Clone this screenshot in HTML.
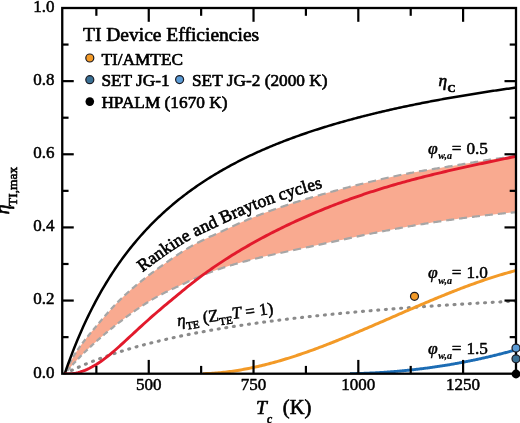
<!DOCTYPE html>
<html><head><meta charset="utf-8"><title>TI Device Efficiencies</title>
<style>
html,body{margin:0;padding:0;background:#fff;}
svg{display:block;}
text{font-family:"Liberation Serif",serif;fill:#000;}
.t{font-size:17.3px;}
.b{stroke:#000;stroke-width:0.65px;stroke-linejoin:round;}
.b2{stroke:#000;stroke-width:0.5px;stroke-linejoin:round;}
</style></head>
<body>
<svg width="520" height="423" viewBox="0 0 520 423">
<rect width="520" height="423" fill="#fff"/>
<defs><clipPath id="cp"><rect x="62.25" y="8.0" width="453.75" height="366.3"/></clipPath></defs>
<g clip-path="url(#cp)">
<path d="M64.50,373.88 L66.77,368.95 L69.04,364.40 L71.31,360.18 L73.58,356.27 L75.84,352.62 L78.11,349.19 L80.38,345.95 L82.65,342.88 L84.92,339.94 L87.19,337.10 L89.46,334.34 L91.73,331.62 L93.99,328.92 L96.26,326.22 L98.53,323.51 L100.80,320.82 L103.07,318.15 L105.34,315.51 L107.61,312.92 L109.88,310.38 L112.15,307.91 L114.41,305.51 L116.68,303.17 L118.95,300.90 L121.22,298.68 L123.49,296.51 L125.76,294.39 L128.03,292.33 L130.30,290.31 L132.57,288.33 L134.83,286.39 L137.10,284.50 L139.37,282.64 L141.64,280.82 L143.91,279.03 L146.18,277.27 L148.45,275.53 L150.72,273.83 L152.98,272.15 L155.25,270.48 L157.52,268.84 L159.79,267.21 L162.06,265.58 L164.33,263.97 L166.60,262.37 L168.87,260.77 L171.14,259.18 L173.40,257.61 L175.67,256.06 L177.94,254.53 L180.21,253.04 L182.48,251.57 L184.75,250.14 L187.02,248.75 L189.29,247.39 L191.56,246.07 L193.82,244.80 L196.09,243.57 L198.36,242.39 L200.63,241.24 L202.90,240.12 L205.17,239.03 L207.44,237.96 L209.71,236.89 L211.97,235.84 L214.24,234.79 L216.51,233.74 L218.78,232.69 L221.05,231.64 L223.32,230.58 L225.59,229.52 L227.86,228.47 L230.13,227.42 L232.39,226.38 L234.66,225.36 L236.93,224.34 L239.20,223.33 L241.47,222.34 L243.74,221.35 L246.01,220.39 L248.28,219.43 L250.55,218.48 L252.81,217.55 L255.08,216.64 L257.35,215.73 L259.62,214.84 L261.89,213.96 L264.16,213.09 L266.43,212.24 L268.70,211.40 L270.96,210.58 L273.23,209.76 L275.50,208.96 L277.77,208.17 L280.04,207.39 L282.31,206.61 L284.58,205.85 L286.85,205.10 L289.12,204.36 L291.38,203.62 L293.65,202.90 L295.92,202.18 L298.19,201.47 L300.46,200.76 L302.73,200.06 L305.00,199.37 L307.27,198.69 L309.54,198.01 L311.80,197.34 L314.07,196.68 L316.34,196.02 L318.61,195.36 L320.88,194.71 L323.15,194.07 L325.42,193.43 L327.69,192.80 L329.95,192.17 L332.22,191.55 L334.49,190.93 L336.76,190.31 L339.03,189.71 L341.30,189.10 L343.57,188.50 L345.84,187.91 L348.11,187.32 L350.37,186.73 L352.64,186.15 L354.91,185.58 L357.18,185.00 L359.45,184.44 L361.72,183.87 L363.99,183.32 L366.26,182.76 L368.53,182.21 L370.79,181.66 L373.06,181.12 L375.33,180.59 L377.60,180.05 L379.87,179.52 L382.14,179.00 L384.41,178.48 L386.68,177.97 L388.94,177.46 L391.21,176.95 L393.48,176.46 L395.75,175.97 L398.02,175.49 L400.29,175.01 L402.56,174.54 L404.83,174.08 L407.10,173.63 L409.36,173.19 L411.63,172.75 L413.90,172.32 L416.17,171.90 L418.44,171.49 L420.71,171.09 L422.98,170.69 L425.25,170.31 L427.52,169.92 L429.78,169.55 L432.05,169.18 L434.32,168.81 L436.59,168.44 L438.86,168.08 L441.13,167.72 L443.40,167.36 L445.67,167.00 L447.93,166.63 L450.20,166.26 L452.47,165.89 L454.74,165.52 L457.01,165.14 L459.28,164.76 L461.55,164.38 L463.82,164.00 L466.09,163.61 L468.35,163.22 L470.62,162.84 L472.89,162.45 L475.16,162.07 L477.43,161.68 L479.70,161.31 L481.97,160.94 L484.24,160.57 L486.51,160.21 L488.77,159.86 L491.04,159.52 L493.31,159.18 L495.58,158.86 L497.85,158.54 L500.12,158.24 L502.39,157.94 L504.66,157.65 L506.92,157.37 L509.19,157.11 L511.46,156.85 L513.73,156.59 L516.00,156.35 L516.00,212.20 L513.73,212.41 L511.46,212.62 L509.19,212.83 L506.92,213.05 L504.66,213.27 L502.39,213.50 L500.12,213.73 L497.85,213.96 L495.58,214.20 L493.31,214.45 L491.04,214.70 L488.77,214.95 L486.51,215.21 L484.24,215.47 L481.97,215.73 L479.70,216.00 L477.43,216.28 L475.16,216.55 L472.89,216.83 L470.62,217.12 L468.35,217.41 L466.09,217.70 L463.82,218.00 L461.55,218.30 L459.28,218.61 L457.01,218.92 L454.74,219.23 L452.47,219.55 L450.20,219.87 L447.93,220.19 L445.67,220.52 L443.40,220.86 L441.13,221.19 L438.86,221.54 L436.59,221.88 L434.32,222.23 L432.05,222.58 L429.78,222.94 L427.52,223.30 L425.25,223.67 L422.98,224.04 L420.71,224.41 L418.44,224.79 L416.17,225.17 L413.90,225.56 L411.63,225.95 L409.36,226.34 L407.10,226.74 L404.83,227.14 L402.56,227.55 L400.29,227.96 L398.02,228.38 L395.75,228.80 L393.48,229.22 L391.21,229.65 L388.94,230.08 L386.68,230.51 L384.41,230.95 L382.14,231.40 L379.87,231.84 L377.60,232.29 L375.33,232.75 L373.06,233.20 L370.79,233.66 L368.53,234.13 L366.26,234.60 L363.99,235.07 L361.72,235.54 L359.45,236.01 L357.18,236.49 L354.91,236.97 L352.64,237.45 L350.37,237.93 L348.11,238.42 L345.84,238.91 L343.57,239.39 L341.30,239.88 L339.03,240.37 L336.76,240.86 L334.49,241.35 L332.22,241.84 L329.95,242.33 L327.69,242.82 L325.42,243.32 L323.15,243.81 L320.88,244.30 L318.61,244.78 L316.34,245.27 L314.07,245.76 L311.80,246.25 L309.54,246.73 L307.27,247.22 L305.00,247.70 L302.73,248.19 L300.46,248.67 L298.19,249.15 L295.92,249.63 L293.65,250.11 L291.38,250.59 L289.12,251.08 L286.85,251.56 L284.58,252.05 L282.31,252.53 L280.04,253.03 L277.77,253.52 L275.50,254.02 L273.23,254.52 L270.96,255.03 L268.70,255.54 L266.43,256.06 L264.16,256.59 L261.89,257.12 L259.62,257.66 L257.35,258.21 L255.08,258.76 L252.81,259.33 L250.55,259.90 L248.28,260.48 L246.01,261.08 L243.74,261.68 L241.47,262.30 L239.20,262.92 L236.93,263.56 L234.66,264.21 L232.39,264.87 L230.13,265.55 L227.86,266.24 L225.59,266.95 L223.32,267.67 L221.05,268.41 L218.78,269.17 L216.51,269.94 L214.24,270.74 L211.97,271.57 L209.71,272.41 L207.44,273.29 L205.17,274.19 L202.90,275.12 L200.63,276.08 L198.36,277.07 L196.09,278.08 L193.82,279.11 L191.56,280.15 L189.29,281.20 L187.02,282.25 L184.75,283.30 L182.48,284.35 L180.21,285.39 L177.94,286.43 L175.67,287.48 L173.40,288.52 L171.14,289.58 L168.87,290.65 L166.60,291.75 L164.33,292.87 L162.06,294.03 L159.79,295.23 L157.52,296.47 L155.25,297.74 L152.98,299.06 L150.72,300.41 L148.45,301.81 L146.18,303.23 L143.91,304.70 L141.64,306.19 L139.37,307.72 L137.10,309.27 L134.83,310.85 L132.57,312.46 L130.30,314.10 L128.03,315.76 L125.76,317.44 L123.49,319.14 L121.22,320.87 L118.95,322.61 L116.68,324.38 L114.41,326.18 L112.15,327.99 L109.88,329.82 L107.61,331.69 L105.34,333.57 L103.07,335.48 L100.80,337.43 L98.53,339.40 L96.26,341.40 L93.99,343.44 L91.73,345.52 L89.46,347.63 L87.19,349.79 L84.92,351.99 L82.65,354.23 L80.38,356.51 L78.11,358.85 L75.84,361.23 L73.58,363.66 L71.31,366.14 L69.04,368.66 L66.77,371.24 L64.50,373.87 Z" fill="#F9AA90"/>
<path d="M65.75,371.15 L66.05,370.51 L66.35,369.87 L66.64,369.22 L66.95,368.58 L67.27,367.95 L67.58,367.32 L67.90,366.68 M69.27,363.97 L69.61,363.34 L69.94,362.72 L70.28,362.10 L70.61,361.47 L70.95,360.85 L71.29,360.22 L71.64,359.61 M73.16,356.98 L73.53,356.36 L73.90,355.75 L74.28,355.13 L74.66,354.52 L75.04,353.91 L75.42,353.30 L75.80,352.69 M77.50,350.12 L77.91,349.50 L78.32,348.90 L78.74,348.30 L79.16,347.69 L79.58,347.09 L80.00,346.49 L80.43,345.89 M82.30,343.36 L82.75,342.76 L83.20,342.16 L83.66,341.57 L84.12,340.97 L84.58,340.38 L85.04,339.79 L85.51,339.20 M87.53,336.69 L88.01,336.10 L88.50,335.50 L88.99,334.91 L89.48,334.32 L89.97,333.73 L90.46,333.14 L90.96,332.55 M93.07,330.02 L93.58,329.42 L94.08,328.82 L94.59,328.21 L95.10,327.61 L95.60,327.01 L96.11,326.40 L96.61,325.80 M98.78,323.21 L99.30,322.60 L99.82,321.98 L100.34,321.36 L100.86,320.75 L101.39,320.13 L101.91,319.52 L102.43,318.90 M104.68,316.27 L105.22,315.65 L105.76,315.02 L106.31,314.40 L106.85,313.78 L107.40,313.16 L107.95,312.54 L108.50,311.92 M110.88,309.29 L111.45,308.67 L112.03,308.04 L112.61,307.43 L113.19,306.81 L113.77,306.19 L114.35,305.58 L114.94,304.97 M117.49,302.37 L118.10,301.75 L118.71,301.14 L119.33,300.52 L119.96,299.91 L120.58,299.31 L121.20,298.70 L121.83,298.10 M124.54,295.53 L125.19,294.92 L125.85,294.31 L126.51,293.71 L127.17,293.11 L127.83,292.50 L128.50,291.91 L129.17,291.31 M132.05,288.78 L132.74,288.18 L133.44,287.58 L134.14,286.98 L134.84,286.38 L135.55,285.79 L136.26,285.20 L136.96,284.62 M140.02,282.12 L140.76,281.53 L141.50,280.93 L142.24,280.34 L142.98,279.76 L143.73,279.17 L144.47,278.59 L145.22,278.01 M148.45,275.54 L149.23,274.95 L150.00,274.36 L150.79,273.78 L151.57,273.20 L152.35,272.61 L153.14,272.03 L153.92,271.46 M157.31,268.99 L158.12,268.40 L158.94,267.82 L159.76,267.23 L160.58,266.64 L161.39,266.06 L162.21,265.48 L163.03,264.89 M166.55,262.40 L167.40,261.80 L168.25,261.20 L169.10,260.60 L169.95,260.01 L170.80,259.42 L171.65,258.82 L172.50,258.23 M176.18,255.72 L177.07,255.12 L177.96,254.53 L178.85,253.94 L179.74,253.35 L180.64,252.76 L181.54,252.18 L182.44,251.60 M186.33,249.17 L187.27,248.59 L188.22,248.03 L189.17,247.46 L190.13,246.90 L191.08,246.35 L192.04,245.80 L193.00,245.26 M197.18,243.01 L198.19,242.48 L199.21,241.96 L200.22,241.45 L201.25,240.94 L202.27,240.43 L203.30,239.93 L204.33,239.44 M208.75,237.34 L209.80,236.85 L210.84,236.37 L211.88,235.88 L212.93,235.40 L213.97,234.92 L215.02,234.43 L216.06,233.95 M220.55,231.87 L221.59,231.39 L222.63,230.90 L223.68,230.41 L224.72,229.93 L225.76,229.44 L226.81,228.96 L227.85,228.47 M232.34,226.41 L233.39,225.93 L234.44,225.46 L235.49,224.98 L236.54,224.51 L237.59,224.04 L238.64,223.58 L239.70,223.11 M244.23,221.15 L245.29,220.69 L246.35,220.24 L247.41,219.79 L248.47,219.35 L249.53,218.91 L250.60,218.46 L251.66,218.03 M256.24,216.17 L257.31,215.75 L258.38,215.32 L259.45,214.90 L260.53,214.49 L261.60,214.07 L262.67,213.66 L263.75,213.25 M268.38,211.52 L269.46,211.12 L270.54,210.73 L271.62,210.34 L272.71,209.95 L273.79,209.56 L274.88,209.18 L275.96,208.80 M280.63,207.18 L281.72,206.81 L282.81,206.44 L283.91,206.08 L285.00,205.71 L286.09,205.35 L287.18,204.99 L288.28,204.63 M292.98,203.11 L294.08,202.76 L295.17,202.41 L296.27,202.07 L297.37,201.72 L298.47,201.38 L299.57,201.04 L300.67,200.70 M305.39,199.26 L306.50,198.92 L307.60,198.59 L308.70,198.26 L309.81,197.93 L310.91,197.61 L312.01,197.28 L313.12,196.96 M317.86,195.58 L318.97,195.26 L320.08,194.94 L321.18,194.63 L322.29,194.31 L323.40,194.00 L324.51,193.69 L325.62,193.38 M330.38,192.05 L331.49,191.75 L332.60,191.44 L333.71,191.14 L334.82,190.84 L335.93,190.54 L337.04,190.24 L338.15,189.94 M342.93,188.67 L344.04,188.38 L345.16,188.09 L346.27,187.80 L347.38,187.51 L348.50,187.22 L349.61,186.93 L350.73,186.64 M355.52,185.42 L356.63,185.14 L357.75,184.86 L358.87,184.58 L359.98,184.30 L361.10,184.03 L362.22,183.75 L363.34,183.48 M368.14,182.31 L369.26,182.04 L370.38,181.77 L371.49,181.50 L372.61,181.23 L373.73,180.96 L374.86,180.70 L375.98,180.43 M380.79,179.31 L381.91,179.05 L383.03,178.79 L384.15,178.54 L385.28,178.28 L386.40,178.03 L387.52,177.78 L388.65,177.52 M393.47,176.46 L394.60,176.22 L395.72,175.98 L396.85,175.74 L397.97,175.50 L399.10,175.26 L400.23,175.02 L401.36,174.79 M406.20,173.81 L407.33,173.58 L408.46,173.36 L409.59,173.14 L410.72,172.93 L411.85,172.71 L412.98,172.50 L414.11,172.28 M418.97,171.40 L420.10,171.20 L421.24,171.00 L422.37,170.80 L423.51,170.60 L424.64,170.41 L425.78,170.22 L426.91,170.03 M431.79,169.22 L432.92,169.04 L434.06,168.85 L435.20,168.67 L436.33,168.49 L437.47,168.30 L438.61,168.12 L439.74,167.94 M444.62,167.16 L445.76,166.98 L446.90,166.80 L448.03,166.61 L449.17,166.43 L450.31,166.25 L451.44,166.06 L452.58,165.88 M457.45,165.07 L458.59,164.88 L459.72,164.69 L460.86,164.50 L462.00,164.31 L463.13,164.11 L464.27,163.92 L465.40,163.73 M470.27,162.90 L471.41,162.70 L472.54,162.51 L473.68,162.32 L474.81,162.12 L475.95,161.93 L477.08,161.74 L478.22,161.55 M483.09,160.75 L484.23,160.57 L485.37,160.39 L486.50,160.21 L487.64,160.04 L488.78,159.86 L489.92,159.69 L491.06,159.52 M495.95,158.81 L497.09,158.65 L498.23,158.49 L499.37,158.34 L500.51,158.19 L501.65,158.04 L502.79,157.89 L503.94,157.74 M508.84,157.15 L509.86,157.03 L510.88,156.91 L511.91,156.80 L512.93,156.68 L513.95,156.57 L514.98,156.46 L516.00,156.35" fill="none" stroke="#A6A6A6" stroke-width="2.2"/>
<path d="M67.12,370.85 L67.58,370.32 L68.05,369.78 L68.52,369.25 L68.99,368.72 L69.46,368.19 L69.93,367.66 L70.41,367.14 M72.45,364.89 L72.93,364.36 L73.42,363.83 L73.91,363.30 L74.40,362.78 L74.89,362.25 L75.37,361.73 L75.86,361.21 M77.99,358.98 L78.50,358.45 L79.01,357.92 L79.52,357.40 L80.04,356.87 L80.55,356.34 L81.07,355.82 L81.59,355.30 M83.82,353.07 L84.36,352.54 L84.90,352.01 L85.44,351.48 L85.98,350.96 L86.53,350.43 L87.07,349.90 L87.62,349.38 M89.97,347.15 L90.54,346.63 L91.11,346.10 L91.68,345.57 L92.25,345.04 L92.82,344.52 L93.39,343.99 L93.97,343.47 M96.45,341.24 L97.04,340.71 L97.64,340.18 L98.24,339.66 L98.84,339.13 L99.44,338.61 L100.05,338.08 L100.65,337.56 M103.25,335.33 L103.88,334.80 L104.51,334.27 L105.14,333.74 L105.77,333.21 L106.40,332.69 L107.03,332.16 L107.67,331.64 M110.39,329.41 L111.05,328.87 L111.71,328.34 L112.37,327.81 L113.03,327.28 L113.69,326.75 L114.35,326.23 L115.02,325.70 M117.87,323.46 L118.56,322.92 L119.25,322.39 L119.94,321.86 L120.63,321.32 L121.32,320.79 L122.01,320.26 L122.71,319.74 M125.69,317.49 L126.41,316.95 L127.14,316.42 L127.86,315.88 L128.58,315.35 L129.31,314.82 L130.03,314.29 L130.76,313.76 M133.89,311.52 L134.65,310.98 L135.41,310.45 L136.17,309.92 L136.93,309.39 L137.69,308.87 L138.46,308.34 L139.22,307.82 M142.52,305.61 L143.32,305.09 L144.12,304.56 L144.92,304.04 L145.73,303.53 L146.53,303.01 L147.34,302.50 L148.15,301.99 M151.65,299.86 L152.49,299.35 L153.34,298.85 L154.20,298.36 L155.05,297.86 L155.91,297.37 L156.77,296.89 L157.63,296.41 M161.36,294.40 L162.26,293.93 L163.17,293.47 L164.08,293.00 L164.99,292.55 L165.90,292.09 L166.82,291.64 L167.74,291.20 M171.69,289.32 L172.65,288.87 L173.60,288.43 L174.56,287.99 L175.52,287.55 L176.48,287.11 L177.44,286.67 L178.40,286.23 M182.51,284.34 L183.50,283.88 L184.49,283.42 L185.48,282.96 L186.47,282.50 L187.46,282.04 L188.45,281.58 L189.44,281.12 M193.70,279.16 L194.73,278.70 L195.76,278.23 L196.79,277.77 L197.82,277.31 L198.85,276.86 L199.89,276.41 L200.93,275.96 M205.40,274.10 L206.47,273.67 L207.54,273.25 L208.62,272.83 L209.69,272.42 L210.77,272.02 L211.85,271.61 L212.93,271.22 M217.59,269.57 L218.68,269.20 L219.77,268.84 L220.86,268.47 L221.96,268.11 L223.05,267.76 L224.15,267.41 L225.25,267.06 M229.97,265.60 L231.07,265.27 L232.17,264.94 L233.28,264.62 L234.38,264.29 L235.49,263.97 L236.60,263.66 L237.70,263.34 M242.47,262.03 L243.58,261.72 L244.69,261.43 L245.80,261.13 L246.92,260.84 L248.03,260.55 L249.14,260.26 L250.26,259.97 M255.05,258.77 L256.17,258.50 L257.29,258.22 L258.41,257.95 L259.53,257.68 L260.65,257.41 L261.77,257.15 L262.89,256.88 M267.70,255.77 L268.82,255.51 L269.95,255.26 L271.07,255.01 L272.19,254.75 L273.32,254.50 L274.44,254.25 L275.56,254.01 M280.39,252.95 L281.52,252.71 L282.64,252.46 L283.77,252.22 L284.89,251.98 L286.02,251.74 L287.14,251.50 L288.27,251.26 M293.10,250.23 L294.23,249.99 L295.36,249.75 L296.48,249.51 L297.61,249.27 L298.73,249.03 L299.86,248.79 L300.99,248.56 M305.82,247.53 L306.94,247.29 L308.07,247.05 L309.20,246.81 L310.32,246.56 L311.45,246.32 L312.57,246.08 L313.70,245.84 M318.53,244.80 L319.66,244.56 L320.78,244.32 L321.91,244.07 L323.03,243.83 L324.16,243.59 L325.28,243.34 L326.41,243.10 M331.24,242.06 L332.36,241.81 L333.49,241.57 L334.61,241.33 L335.74,241.08 L336.86,240.84 L337.99,240.60 L339.11,240.35 M343.94,239.31 L345.07,239.07 L346.20,238.83 L347.32,238.59 L348.45,238.35 L349.57,238.11 L350.70,237.87 L351.83,237.63 M356.66,236.60 L357.78,236.36 L358.91,236.13 L360.04,235.89 L361.16,235.65 L362.29,235.42 L363.42,235.18 L364.55,234.95 M369.39,233.95 L370.51,233.72 L371.64,233.49 L372.77,233.26 L373.90,233.04 L375.03,232.81 L376.16,232.58 L377.29,232.36 M382.13,231.40 L383.26,231.18 L384.39,230.96 L385.52,230.74 L386.65,230.52 L387.78,230.30 L388.91,230.08 L390.05,229.87 M394.90,228.95 L396.03,228.74 L397.16,228.53 L398.30,228.33 L399.43,228.12 L400.56,227.91 L401.69,227.71 L402.83,227.50 M407.69,226.64 L408.83,226.44 L409.96,226.24 L411.09,226.04 L412.23,225.85 L413.36,225.65 L414.50,225.46 L415.63,225.26 M420.51,224.45 L421.64,224.26 L422.78,224.07 L423.91,223.89 L425.05,223.70 L426.19,223.52 L427.32,223.33 L428.46,223.15 M433.34,222.38 L434.48,222.21 L435.62,222.03 L436.75,221.86 L437.89,221.68 L439.03,221.51 L440.17,221.34 L441.31,221.17 M446.20,220.45 L447.34,220.28 L448.47,220.12 L449.61,219.95 L450.75,219.79 L451.89,219.63 L453.03,219.47 L454.17,219.31 M459.07,218.64 L460.21,218.48 L461.35,218.33 L462.49,218.18 L463.63,218.02 L464.78,217.87 L465.92,217.72 L467.06,217.58 M471.96,216.95 L473.10,216.81 L474.24,216.67 L475.39,216.53 L476.53,216.39 L477.67,216.25 L478.82,216.11 L479.96,215.97 M484.87,215.40 L486.01,215.26 L487.15,215.13 L488.30,215.00 L489.44,214.88 L490.59,214.75 L491.73,214.62 L492.88,214.50 M497.79,213.97 L498.93,213.85 L500.08,213.73 L501.22,213.62 L502.37,213.50 L503.51,213.38 L504.66,213.27 L505.81,213.16 M510.72,212.68 L511.48,212.61 L512.23,212.54 L512.98,212.47 L513.74,212.41 L514.49,212.34 L515.25,212.27 L516.00,212.20" fill="none" stroke="#A6A6A6" stroke-width="2.2"/>
<path d="M62.25,374.95 L63.77,374.18 L65.29,373.42 L66.80,372.67 L68.32,371.93 L69.84,371.20 L71.36,370.48 L72.87,369.77 L74.39,369.07 L75.91,368.38 L77.43,367.70 L78.94,367.03 L80.46,366.37 L81.98,365.71 L83.50,365.07 L85.01,364.43 L86.53,363.80 L88.05,363.18 L89.57,362.57 L91.08,361.96 L92.60,361.37 L94.12,360.78 L95.64,360.19 L97.15,359.62 L98.67,359.05 L100.19,358.49 L101.71,357.93 L103.22,357.38 L104.74,356.84 L106.26,356.31 L107.78,355.78 L109.29,355.25 L110.81,354.74 L112.33,354.23 L113.85,353.72 L115.36,353.22 L116.88,352.73 L118.40,352.24 L119.92,351.76 L121.43,351.28 L122.95,350.81 L124.47,350.34 L125.99,349.88 L127.51,349.43 L129.02,348.98 L130.54,348.53 L132.06,348.09 L133.58,347.65 L135.09,347.22 L136.61,346.79 L138.13,346.37 L139.65,345.95 L141.16,345.54 L142.68,345.13 L144.20,344.72 L145.72,344.32 L147.23,343.92 L148.75,343.53 L150.27,343.14 L151.79,342.75 L153.30,342.37 L154.82,341.99 L156.34,341.62 L157.86,341.25 L159.37,340.88 L160.89,340.52 L162.41,340.16 L163.93,339.80 L165.44,339.45 L166.96,339.10 L168.48,338.76 L170.00,338.41 L171.51,338.07 L173.03,337.74 L174.55,337.40 L176.07,337.07 L177.58,336.75 L179.10,336.42 L180.62,336.10 L182.14,335.78 L183.65,335.47 L185.17,335.16 L186.69,334.85 L188.21,334.54 L189.72,334.24 L191.24,333.94 L192.76,333.64 L194.28,333.34 L195.80,333.05 L197.31,332.76 L198.83,332.47 L200.35,332.18 L201.87,331.90 L203.38,331.62 L204.90,331.34 L206.42,331.06 L207.94,330.79 L209.45,330.52 L210.97,330.25 L212.49,329.98 L214.01,329.72 L215.52,329.46 L217.04,329.20 L218.56,328.94 L220.08,328.68 L221.59,328.43 L223.11,328.18 L224.63,327.93 L226.15,327.68 L227.66,327.43 L229.18,327.19 L230.70,326.95 L232.22,326.71 L233.73,326.47 L235.25,326.23 L236.77,326.00 L238.29,325.77 L239.80,325.54 L241.32,325.31 L242.84,325.08 L244.36,324.86 L245.87,324.63 L247.39,324.41 L248.91,324.19 L250.43,323.97 L251.94,323.75 L253.46,323.54 L254.98,323.33 L256.50,323.11 L258.02,322.90 L259.53,322.69 L261.05,322.49 L262.57,322.28 L264.09,322.08 L265.60,321.87 L267.12,321.67 L268.64,321.47 L270.16,321.27 L271.67,321.08 L273.19,320.88 L274.71,320.69 L276.23,320.49 L277.74,320.30 L279.26,320.11 L280.78,319.92 L282.30,319.74 L283.81,319.55 L285.33,319.37 L286.85,319.18 L288.37,319.00 L289.88,318.82 L291.40,318.64 L292.92,318.46 L294.44,318.28 L295.95,318.11 L297.47,317.93 L298.99,317.76 L300.51,317.59 L302.02,317.41 L303.54,317.24 L305.06,317.08 L306.58,316.91 L308.09,316.74 L309.61,316.57 L311.13,316.41 L312.65,316.25 L314.16,316.08 L315.68,315.92 L317.20,315.76 L318.72,315.60 L320.23,315.44 L321.75,315.29 L323.27,315.13 L324.79,314.98 L326.31,314.82 L327.82,314.67 L329.34,314.52 L330.86,314.36 L332.38,314.21 L333.89,314.06 L335.41,313.92 L336.93,313.77 L338.45,313.62 L339.96,313.48 L341.48,313.33 L343.00,313.19 L344.52,313.04 L346.03,312.90 L347.55,312.76 L349.07,312.62 L350.59,312.48 L352.10,312.34 L353.62,312.20 L355.14,312.07 L356.66,311.93 L358.17,311.79 L359.69,311.66 L361.21,311.53 L362.73,311.39 L364.24,311.26 L365.76,311.13 L367.28,311.00 L368.80,310.87 L370.31,310.74 L371.83,310.61 L373.35,310.48 L374.87,310.36 L376.38,310.23 L377.90,310.10 L379.42,309.98 L380.94,309.85 L382.45,309.73 L383.97,309.61 L385.49,309.49 L387.01,309.37 L388.53,309.24 L390.04,309.12 L391.56,309.01 L393.08,308.89 L394.60,308.77 L396.11,308.65 L397.63,308.53 L399.15,308.42 L400.67,308.30 L402.18,308.19 L403.70,308.07 L405.22,307.96 L406.74,307.85 L408.25,307.74 L409.77,307.62 L411.29,307.51 L412.81,307.40 L414.32,307.29 L415.84,307.18 L417.36,307.08 L418.88,306.97 L420.39,306.86 L421.91,306.75 L423.43,306.65 L424.95,306.54 L426.46,306.44 L427.98,306.33 L429.50,306.23 L431.02,306.12 L432.53,306.02 L434.05,305.92 L435.57,305.82 L437.09,305.71 L438.60,305.61 L440.12,305.51 L441.64,305.41 L443.16,305.31 L444.67,305.21 L446.19,305.12 L447.71,305.02 L449.23,304.92 L450.74,304.82 L452.26,304.73 L453.78,304.63 L455.30,304.54 L456.82,304.44 L458.33,304.35 L459.85,304.25 L461.37,304.16 L462.89,304.07 L464.40,303.97 L465.92,303.88 L467.44,303.79 L468.96,303.70 L470.47,303.61 L471.99,303.52 L473.51,303.43 L475.03,303.34 L476.54,303.25 L478.06,303.16 L479.58,303.07 L481.10,302.98 L482.61,302.90 L484.13,302.81 L485.65,302.72 L487.17,302.64 L488.68,302.55 L490.20,302.47 L491.72,302.38 L493.24,302.30 L494.75,302.21 L496.27,302.13 L497.79,302.04 L499.31,301.96 L500.82,301.88 L502.34,301.80 L503.86,301.72 L505.38,301.63 L506.89,301.55 L508.41,301.47 L509.93,301.39 L511.45,301.31 L512.96,301.23 L514.48,301.15 L516.00,301.07" fill="none" stroke="#8a8a8a" stroke-width="3.1" stroke-linecap="round" stroke-dasharray="1 6.65" stroke-dashoffset="5.08"/>
<path d="M62.25,381.02 L63.77,376.48 L65.29,372.04 L66.80,367.72 L68.32,363.49 L69.84,359.36 L71.36,355.33 L72.87,351.38 L74.39,347.53 L75.91,343.76 L77.43,340.07 L78.94,336.47 L80.46,332.94 L81.98,329.49 L83.50,326.11 L85.01,322.80 L86.53,319.55 L88.05,316.38 L89.57,313.27 L91.08,310.22 L92.60,307.23 L94.12,304.30 L95.64,301.42 L97.15,298.60 L98.67,295.84 L100.19,293.12 L101.71,290.46 L103.22,287.85 L104.74,285.28 L106.26,282.76 L107.78,280.29 L109.29,277.86 L110.81,275.48 L112.33,273.13 L113.85,270.83 L115.36,268.56 L116.88,266.34 L118.40,264.15 L119.92,262.00 L121.43,259.89 L122.95,257.81 L124.47,255.76 L125.99,253.75 L127.51,251.77 L129.02,249.82 L130.54,247.90 L132.06,246.01 L133.58,244.15 L135.09,242.33 L136.61,240.52 L138.13,238.75 L139.65,237.00 L141.16,235.28 L142.68,233.59 L144.20,231.92 L145.72,230.27 L147.23,228.65 L148.75,227.05 L150.27,225.48 L151.79,223.93 L153.30,222.40 L154.82,220.89 L156.34,219.40 L157.86,217.93 L159.37,216.49 L160.89,215.06 L162.41,213.65 L163.93,212.26 L165.44,210.89 L166.96,209.54 L168.48,208.21 L170.00,206.89 L171.51,205.59 L173.03,204.31 L174.55,203.04 L176.07,201.79 L177.58,200.56 L179.10,199.34 L180.62,198.14 L182.14,196.95 L183.65,195.78 L185.17,194.62 L186.69,193.48 L188.21,192.35 L189.72,191.23 L191.24,190.13 L192.76,189.04 L194.28,187.96 L195.80,186.89 L197.31,185.84 L198.83,184.80 L200.35,183.78 L201.87,182.76 L203.38,181.76 L204.90,180.76 L206.42,179.78 L207.94,178.81 L209.45,177.85 L210.97,176.91 L212.49,175.97 L214.01,175.04 L215.52,174.12 L217.04,173.22 L218.56,172.32 L220.08,171.43 L221.59,170.55 L223.11,169.68 L224.63,168.82 L226.15,167.97 L227.66,167.13 L229.18,166.30 L230.70,165.47 L232.22,164.66 L233.73,163.85 L235.25,163.05 L236.77,162.26 L238.29,161.48 L239.80,160.71 L241.32,159.94 L242.84,159.18 L244.36,158.43 L245.87,157.68 L247.39,156.95 L248.91,156.22 L250.43,155.49 L251.94,154.78 L253.46,154.07 L254.98,153.37 L256.50,152.67 L258.02,151.98 L259.53,151.30 L261.05,150.63 L262.57,149.96 L264.09,149.29 L265.60,148.64 L267.12,147.99 L268.64,147.34 L270.16,146.70 L271.67,146.07 L273.19,145.44 L274.71,144.82 L276.23,144.20 L277.74,143.59 L279.26,142.99 L280.78,142.39 L282.30,141.79 L283.81,141.20 L285.33,140.62 L286.85,140.04 L288.37,139.47 L289.88,138.90 L291.40,138.33 L292.92,137.78 L294.44,137.22 L295.95,136.67 L297.47,136.13 L298.99,135.59 L300.51,135.05 L302.02,134.52 L303.54,133.99 L305.06,133.47 L306.58,132.95 L308.09,132.44 L309.61,131.93 L311.13,131.42 L312.65,130.92 L314.16,130.42 L315.68,129.93 L317.20,129.44 L318.72,128.95 L320.23,128.47 L321.75,127.99 L323.27,127.52 L324.79,127.05 L326.31,126.58 L327.82,126.12 L329.34,125.66 L330.86,125.21 L332.38,124.75 L333.89,124.30 L335.41,123.86 L336.93,123.42 L338.45,122.98 L339.96,122.54 L341.48,122.11 L343.00,121.68 L344.52,121.26 L346.03,120.83 L347.55,120.41 L349.07,120.00 L350.59,119.58 L352.10,119.17 L353.62,118.77 L355.14,118.36 L356.66,117.96 L358.17,117.56 L359.69,117.17 L361.21,116.78 L362.73,116.39 L364.24,116.00 L365.76,115.62 L367.28,115.23 L368.80,114.85 L370.31,114.48 L371.83,114.11 L373.35,113.73 L374.87,113.37 L376.38,113.00 L377.90,112.64 L379.42,112.28 L380.94,111.92 L382.45,111.56 L383.97,111.21 L385.49,110.86 L387.01,110.51 L388.53,110.16 L390.04,109.82 L391.56,109.48 L393.08,109.14 L394.60,108.80 L396.11,108.47 L397.63,108.13 L399.15,107.80 L400.67,107.48 L402.18,107.15 L403.70,106.83 L405.22,106.50 L406.74,106.18 L408.25,105.87 L409.77,105.55 L411.29,105.24 L412.81,104.93 L414.32,104.62 L415.84,104.31 L417.36,104.00 L418.88,103.70 L420.39,103.40 L421.91,103.10 L423.43,102.80 L424.95,102.50 L426.46,102.21 L427.98,101.92 L429.50,101.63 L431.02,101.34 L432.53,101.05 L434.05,100.76 L435.57,100.48 L437.09,100.20 L438.60,99.92 L440.12,99.64 L441.64,99.36 L443.16,99.09 L444.67,98.82 L446.19,98.54 L447.71,98.27 L449.23,98.00 L450.74,97.74 L452.26,97.47 L453.78,97.21 L455.30,96.95 L456.82,96.69 L458.33,96.43 L459.85,96.17 L461.37,95.91 L462.89,95.66 L464.40,95.40 L465.92,95.15 L467.44,94.90 L468.96,94.65 L470.47,94.41 L471.99,94.16 L473.51,93.91 L475.03,93.67 L476.54,93.43 L478.06,93.19 L479.58,92.95 L481.10,92.71 L482.61,92.47 L484.13,92.24 L485.65,92.01 L487.17,91.77 L488.68,91.54 L490.20,91.31 L491.72,91.08 L493.24,90.86 L494.75,90.63 L496.27,90.40 L497.79,90.18 L499.31,89.96 L500.82,89.74 L502.34,89.52 L503.86,89.30 L505.38,89.08 L506.89,88.86 L508.41,88.65 L509.93,88.43 L511.45,88.22 L512.96,88.01 L514.48,87.80 L516.00,87.59" fill="none" stroke="#000" stroke-width="2.5"/>
<path d="M64.50,373.76 L66.77,373.93 L69.04,373.94 L71.31,373.82 L73.58,373.55 L75.84,373.15 L78.11,372.63 L80.38,371.98 L82.65,371.21 L84.92,370.34 L87.19,369.36 L89.46,368.27 L91.73,367.09 L93.99,365.81 L96.26,364.45 L98.53,362.99 L100.80,361.46 L103.07,359.84 L105.34,358.15 L107.61,356.39 L109.88,354.57 L112.15,352.68 L114.41,350.74 L116.68,348.76 L118.95,346.74 L121.22,344.68 L123.49,342.61 L125.76,340.52 L128.03,338.42 L130.30,336.31 L132.57,334.21 L134.83,332.11 L137.10,330.01 L139.37,327.92 L141.64,325.84 L143.91,323.78 L146.18,321.73 L148.45,319.71 L150.72,317.69 L152.98,315.70 L155.25,313.73 L157.52,311.77 L159.79,309.83 L162.06,307.90 L164.33,305.98 L166.60,304.08 L168.87,302.18 L171.14,300.28 L173.40,298.39 L175.67,296.51 L177.94,294.63 L180.21,292.77 L182.48,290.91 L184.75,289.06 L187.02,287.23 L189.29,285.42 L191.56,283.62 L193.82,281.84 L196.09,280.09 L198.36,278.35 L200.63,276.65 L202.90,274.96 L205.17,273.31 L207.44,271.67 L209.71,270.06 L211.97,268.48 L214.24,266.91 L216.51,265.37 L218.78,263.85 L221.05,262.34 L223.32,260.86 L225.59,259.39 L227.86,257.95 L230.13,256.52 L232.39,255.10 L234.66,253.70 L236.93,252.32 L239.20,250.95 L241.47,249.60 L243.74,248.26 L246.01,246.94 L248.28,245.63 L250.55,244.33 L252.81,243.05 L255.08,241.79 L257.35,240.53 L259.62,239.29 L261.89,238.07 L264.16,236.85 L266.43,235.65 L268.70,234.47 L270.96,233.29 L273.23,232.13 L275.50,230.98 L277.77,229.84 L280.04,228.72 L282.31,227.60 L284.58,226.50 L286.85,225.41 L289.12,224.33 L291.38,223.26 L293.65,222.20 L295.92,221.15 L298.19,220.12 L300.46,219.09 L302.73,218.08 L305.00,217.07 L307.27,216.08 L309.54,215.09 L311.80,214.11 L314.07,213.15 L316.34,212.19 L318.61,211.25 L320.88,210.31 L323.15,209.38 L325.42,208.47 L327.69,207.56 L329.95,206.66 L332.22,205.77 L334.49,204.89 L336.76,204.02 L339.03,203.15 L341.30,202.30 L343.57,201.46 L345.84,200.62 L348.11,199.79 L350.37,198.97 L352.64,198.16 L354.91,197.36 L357.18,196.57 L359.45,195.79 L361.72,195.01 L363.99,194.24 L366.26,193.49 L368.53,192.74 L370.79,191.99 L373.06,191.26 L375.33,190.53 L377.60,189.82 L379.87,189.11 L382.14,188.40 L384.41,187.71 L386.68,187.02 L388.94,186.34 L391.21,185.67 L393.48,185.01 L395.75,184.35 L398.02,183.70 L400.29,183.06 L402.56,182.42 L404.83,181.79 L407.10,181.17 L409.36,180.56 L411.63,179.95 L413.90,179.34 L416.17,178.75 L418.44,178.16 L420.71,177.57 L422.98,176.99 L425.25,176.42 L427.52,175.85 L429.78,175.29 L432.05,174.73 L434.32,174.18 L436.59,173.63 L438.86,173.09 L441.13,172.55 L443.40,172.02 L445.67,171.49 L447.93,170.96 L450.20,170.44 L452.47,169.92 L454.74,169.41 L457.01,168.90 L459.28,168.39 L461.55,167.89 L463.82,167.39 L466.09,166.89 L468.35,166.39 L470.62,165.90 L472.89,165.41 L475.16,164.92 L477.43,164.43 L479.70,163.95 L481.97,163.46 L484.24,162.98 L486.51,162.50 L488.77,162.02 L491.04,161.54 L493.31,161.07 L495.58,160.59 L497.85,160.11 L500.12,159.64 L502.39,159.16 L504.66,158.69 L506.92,158.21 L509.19,157.74 L511.46,157.26 L513.73,156.79 L516.00,156.31" fill="none" stroke="#E21A2C" stroke-width="2.9"/>
<path d="M203.00,373.70 L204.57,373.66 L206.15,373.61 L207.72,373.54 L209.29,373.47 L210.86,373.38 L212.44,373.29 L214.01,373.18 L215.58,373.07 L217.16,372.94 L218.73,372.81 L220.30,372.66 L221.87,372.50 L223.45,372.34 L225.02,372.16 L226.59,371.98 L228.17,371.79 L229.74,371.58 L231.31,371.37 L232.88,371.15 L234.46,370.92 L236.03,370.68 L237.60,370.43 L239.18,370.18 L240.75,369.91 L242.32,369.63 L243.89,369.35 L245.47,369.06 L247.04,368.76 L248.61,368.45 L250.19,368.14 L251.76,367.81 L253.33,367.48 L254.90,367.14 L256.48,366.79 L258.05,366.43 L259.62,366.07 L261.20,365.70 L262.77,365.32 L264.34,364.93 L265.91,364.54 L267.49,364.14 L269.06,363.73 L270.63,363.32 L272.21,362.90 L273.78,362.47 L275.35,362.03 L276.92,361.59 L278.50,361.14 L280.07,360.69 L281.64,360.23 L283.22,359.76 L284.79,359.28 L286.36,358.80 L287.93,358.32 L289.51,357.83 L291.08,357.33 L292.65,356.83 L294.23,356.32 L295.80,355.80 L297.37,355.28 L298.94,354.75 L300.52,354.22 L302.09,353.69 L303.66,353.15 L305.24,352.60 L306.81,352.05 L308.38,351.49 L309.95,350.93 L311.53,350.36 L313.10,349.79 L314.67,349.22 L316.25,348.64 L317.82,348.06 L319.39,347.47 L320.96,346.88 L322.54,346.28 L324.11,345.68 L325.68,345.08 L327.26,344.47 L328.83,343.86 L330.40,343.24 L331.97,342.62 L333.55,342.00 L335.12,341.38 L336.69,340.75 L338.27,340.12 L339.84,339.48 L341.41,338.84 L342.98,338.20 L344.56,337.56 L346.13,336.91 L347.70,336.26 L349.28,335.61 L350.85,334.96 L352.42,334.30 L353.99,333.64 L355.57,332.98 L357.14,332.32 L358.71,331.66 L360.29,330.99 L361.86,330.32 L363.43,329.65 L365.01,328.98 L366.58,328.31 L368.15,327.63 L369.72,326.95 L371.30,326.28 L372.87,325.60 L374.44,324.92 L376.02,324.24 L377.59,323.56 L379.16,322.87 L380.73,322.19 L382.31,321.51 L383.88,320.82 L385.45,320.14 L387.03,319.45 L388.60,318.77 L390.17,318.08 L391.74,317.39 L393.32,316.71 L394.89,316.02 L396.46,315.34 L398.04,314.65 L399.61,313.96 L401.18,313.28 L402.75,312.60 L404.33,311.91 L405.90,311.23 L407.47,310.55 L409.05,309.87 L410.62,309.19 L412.19,308.51 L413.76,307.83 L415.34,307.15 L416.91,306.48 L418.48,305.80 L420.06,305.13 L421.63,304.46 L423.20,303.79 L424.77,303.12 L426.35,302.46 L427.92,301.79 L429.49,301.13 L431.07,300.47 L432.64,299.81 L434.21,299.16 L435.78,298.50 L437.36,297.85 L438.93,297.21 L440.50,296.56 L442.08,295.92 L443.65,295.28 L445.22,294.64 L446.79,294.01 L448.37,293.38 L449.94,292.75 L451.51,292.13 L453.09,291.51 L454.66,290.89 L456.23,290.28 L457.80,289.67 L459.38,289.06 L460.95,288.46 L462.52,287.86 L464.10,287.27 L465.67,286.68 L467.24,286.09 L468.81,285.51 L470.39,284.93 L471.96,284.36 L473.53,283.79 L475.11,283.23 L476.68,282.67 L478.25,282.12 L479.82,281.57 L481.40,281.02 L482.97,280.48 L484.54,279.95 L486.12,279.42 L487.69,278.90 L489.26,278.38 L490.83,277.87 L492.41,277.36 L493.98,276.86 L495.55,276.37 L497.13,275.88 L498.70,275.39 L500.27,274.92 L501.84,274.45 L503.42,273.98 L504.99,273.52 L506.56,273.07 L508.14,272.63 L509.71,272.19 L511.28,271.76 L512.85,271.33 L514.43,270.91 L516.00,270.50" fill="none" stroke="#F39A27" stroke-width="3"/>
<path d="M350.00,373.70 L350.83,373.69 L351.67,373.67 L352.50,373.65 L353.34,373.64 L354.17,373.62 L355.01,373.60 L355.84,373.58 L356.67,373.55 L357.51,373.53 L358.34,373.51 L359.18,373.48 L360.01,373.46 L360.84,373.43 L361.68,373.40 L362.51,373.38 L363.35,373.35 L364.18,373.32 L365.02,373.28 L365.85,373.25 L366.68,373.22 L367.52,373.18 L368.35,373.15 L369.19,373.11 L370.02,373.07 L370.85,373.03 L371.69,372.99 L372.52,372.95 L373.36,372.91 L374.19,372.87 L375.03,372.83 L375.86,372.78 L376.69,372.74 L377.53,372.69 L378.36,372.64 L379.20,372.59 L380.03,372.54 L380.86,372.49 L381.70,372.44 L382.53,372.39 L383.37,372.33 L384.20,372.28 L385.04,372.22 L385.87,372.16 L386.70,372.11 L387.54,372.05 L388.37,371.99 L389.21,371.92 L390.04,371.86 L390.87,371.80 L391.71,371.73 L392.54,371.67 L393.38,371.60 L394.21,371.53 L395.05,371.47 L395.88,371.40 L396.71,371.33 L397.55,371.25 L398.38,371.18 L399.22,371.11 L400.05,371.03 L400.88,370.96 L401.72,370.88 L402.55,370.80 L403.39,370.72 L404.22,370.64 L405.06,370.56 L405.89,370.48 L406.72,370.39 L407.56,370.31 L408.39,370.22 L409.23,370.14 L410.06,370.05 L410.89,369.96 L411.73,369.87 L412.56,369.78 L413.40,369.69 L414.23,369.60 L415.07,369.50 L415.90,369.41 L416.73,369.31 L417.57,369.21 L418.40,369.11 L419.24,369.01 L420.07,368.91 L420.90,368.81 L421.74,368.71 L422.57,368.61 L423.41,368.50 L424.24,368.39 L425.08,368.29 L425.91,368.18 L426.74,368.07 L427.58,367.96 L428.41,367.85 L429.25,367.74 L430.08,367.62 L430.91,367.51 L431.75,367.39 L432.58,367.27 L433.42,367.16 L434.25,367.04 L435.09,366.92 L435.92,366.79 L436.75,366.67 L437.59,366.55 L438.42,366.42 L439.26,366.30 L440.09,366.17 L440.92,366.04 L441.76,365.91 L442.59,365.78 L443.43,365.65 L444.26,365.52 L445.10,365.38 L445.93,365.25 L446.76,365.11 L447.60,364.98 L448.43,364.84 L449.27,364.70 L450.10,364.56 L450.93,364.42 L451.77,364.27 L452.60,364.13 L453.44,363.99 L454.27,363.84 L455.11,363.69 L455.94,363.54 L456.77,363.39 L457.61,363.24 L458.44,363.09 L459.28,362.94 L460.11,362.79 L460.94,362.63 L461.78,362.47 L462.61,362.32 L463.45,362.16 L464.28,362.00 L465.12,361.84 L465.95,361.67 L466.78,361.51 L467.62,361.35 L468.45,361.18 L469.29,361.01 L470.12,360.85 L470.95,360.68 L471.79,360.51 L472.62,360.34 L473.46,360.16 L474.29,359.99 L475.13,359.82 L475.96,359.64 L476.79,359.46 L477.63,359.28 L478.46,359.10 L479.30,358.92 L480.13,358.74 L480.96,358.56 L481.80,358.37 L482.63,358.19 L483.47,358.00 L484.30,357.82 L485.14,357.63 L485.97,357.44 L486.80,357.24 L487.64,357.05 L488.47,356.86 L489.31,356.66 L490.14,356.47 L490.97,356.27 L491.81,356.07 L492.64,355.87 L493.48,355.67 L494.31,355.47 L495.15,355.27 L495.98,355.06 L496.81,354.86 L497.65,354.65 L498.48,354.44 L499.32,354.23 L500.15,354.02 L500.98,353.81 L501.82,353.60 L502.65,353.39 L503.49,353.17 L504.32,352.95 L505.16,352.74 L505.99,352.52 L506.82,352.30 L507.66,352.08 L508.49,351.86 L509.33,351.63 L510.16,351.41 L510.99,351.18 L511.83,350.95 L512.66,350.73 L513.50,350.50 L514.33,350.27 L515.17,350.03 L516.00,349.80" fill="none" stroke="#1C6CB4" stroke-width="2.9"/>
</g>
<g stroke="#000" stroke-width="2.2" stroke-linecap="butt"><line x1="148.75" y1="373.7" x2="148.75" y2="359.9"/><line x1="148.75" y1="8.0" x2="148.75" y2="21.8"/><line x1="253.53" y1="373.7" x2="253.53" y2="359.9"/><line x1="253.53" y1="8.0" x2="253.53" y2="21.8"/><line x1="358.31" y1="373.7" x2="358.31" y2="359.9"/><line x1="358.31" y1="8.0" x2="358.31" y2="21.8"/><line x1="463.10" y1="373.7" x2="463.10" y2="359.9"/><line x1="463.10" y1="8.0" x2="463.10" y2="21.8"/><line x1="96.36" y1="373.7" x2="96.36" y2="365.9"/><line x1="96.36" y1="8.0" x2="96.36" y2="15.8"/><line x1="201.14" y1="373.7" x2="201.14" y2="365.9"/><line x1="201.14" y1="8.0" x2="201.14" y2="15.8"/><line x1="305.92" y1="373.7" x2="305.92" y2="365.9"/><line x1="305.92" y1="8.0" x2="305.92" y2="15.8"/><line x1="410.71" y1="373.7" x2="410.71" y2="365.9"/><line x1="410.71" y1="8.0" x2="410.71" y2="15.8"/><line x1="62.25" y1="337.13" x2="68.55" y2="337.13"/><line x1="516.0" y1="337.13" x2="509.7" y2="337.13"/><line x1="62.25" y1="300.56" x2="73.75" y2="300.56"/><line x1="516.0" y1="300.56" x2="504.5" y2="300.56"/><line x1="62.25" y1="263.99" x2="68.55" y2="263.99"/><line x1="516.0" y1="263.99" x2="509.7" y2="263.99"/><line x1="62.25" y1="227.42" x2="73.75" y2="227.42"/><line x1="516.0" y1="227.42" x2="504.5" y2="227.42"/><line x1="62.25" y1="190.85" x2="68.55" y2="190.85"/><line x1="516.0" y1="190.85" x2="509.7" y2="190.85"/><line x1="62.25" y1="154.28" x2="73.75" y2="154.28"/><line x1="516.0" y1="154.28" x2="504.5" y2="154.28"/><line x1="62.25" y1="117.71" x2="68.55" y2="117.71"/><line x1="516.0" y1="117.71" x2="509.7" y2="117.71"/><line x1="62.25" y1="81.14" x2="73.75" y2="81.14"/><line x1="516.0" y1="81.14" x2="504.5" y2="81.14"/><line x1="62.25" y1="44.57" x2="68.55" y2="44.57"/><line x1="516.0" y1="44.57" x2="509.7" y2="44.57"/></g>
<rect x="62.25" y="8.0" width="453.75" height="365.7" fill="none" stroke="#000" stroke-width="2.3"/>
<circle cx="414.5" cy="296.3" r="4.0" fill="#F39A27" stroke="#1a1a22" stroke-width="1.2"/>
<circle cx="516" cy="348.1" r="4.0" fill="#5B9BD5" stroke="#1a1a22" stroke-width="1.2"/>
<circle cx="516" cy="358.8" r="4.0" fill="#3A7094" stroke="#1a1a22" stroke-width="1.2"/>
<circle cx="516" cy="374" r="4.4" fill="#000"/>
<g class="b2" font-size="17"><text x="148.8" y="390.2" text-anchor="middle">500</text><text x="253.5" y="390.2" text-anchor="middle">750</text><text x="358.3" y="390.2" text-anchor="middle">1000</text><text x="463.1" y="390.2" text-anchor="middle">1250</text><text x="54.6" y="377.5" text-anchor="end">0.0</text><text x="54.6" y="304.4" text-anchor="end">0.2</text><text x="54.6" y="231.2" text-anchor="end">0.4</text><text x="54.6" y="158.1" text-anchor="end">0.6</text><text x="54.6" y="84.9" text-anchor="end">0.8</text><text x="54.6" y="11.8" text-anchor="end">1.0</text></g>
<text class="b" x="83" y="41" font-size="19.5">TI Device Efficiencies</text>
<circle cx="89.8" cy="58.0" r="4.0" fill="#F39A27" stroke="#1a1a22" stroke-width="1.2"/>
<circle cx="89.8" cy="79.7" r="4.0" fill="#3A7094" stroke="#1a1a22" stroke-width="1.2"/>
<circle cx="89.8" cy="101.6" r="4.3" fill="#000"/>
<circle cx="179.6" cy="79.6" r="4.0" fill="#5B9BD5" stroke="#1a1a22" stroke-width="1.2"/>
<g class="t b">
<text x="101.4" y="64.5">TI/AMTEC</text>
<text x="101.4" y="86.1">SET JG-1</text>
<text x="192" y="86.1">SET JG-2 (2000 K)</text>
<text x="101.4" y="108.1">HPALM (1670 K)</text>
</g>
<defs><path id="tp" d="M137.72,275.89 L140.03,274.06 L142.34,272.27 L144.64,270.51 L146.95,268.78 L149.25,267.07 L151.54,265.39 L153.83,263.73 L156.12,262.08 L158.41,260.45 L160.68,258.83 L162.96,257.22 L165.25,255.61 L167.54,254.01 L169.83,252.42 L172.14,250.84 L174.45,249.29 L176.77,247.76 L179.09,246.26 L181.42,244.79 L183.75,243.36 L186.09,241.96 L188.43,240.60 L190.78,239.28 L193.14,238.01 L195.48,236.79 L197.82,235.60 L200.14,234.46 L202.45,233.35 L204.75,232.26 L207.04,231.18 L209.33,230.12 L211.60,229.07 L213.87,228.02 L216.13,226.98 L218.39,225.93 L220.66,224.87 L222.93,223.81 L225.21,222.75 L227.49,221.70 L229.78,220.65 L232.07,219.61 L234.37,218.58 L236.66,217.57 L238.95,216.56 L241.25,215.57 L243.55,214.59 L245.84,213.62 L248.14,212.66 L250.44,211.72 L252.73,210.79 L255.03,209.87 L257.33,208.97 L259.63,208.08 L261.93,207.20 L264.23,206.34 L266.53,205.49 L268.82,204.65 L271.12,203.83 L273.41,203.01 L275.71,202.21 L278.00,201.42 L280.29,200.65 L282.58,199.88 L284.87,199.12 L287.16,198.37 L289.45,197.63 L291.74,196.89 L294.03,196.17 L296.32,195.45 L298.60,194.74 L300.89,194.04 L303.17,193.35 L305.46,192.66 L307.74,191.97 L310.02,191.30 L312.31,190.63 L314.59,189.97 L316.87,189.31 L319.15,188.65 L321.44,188.01 L323.72,187.37 L326.00,186.73 L328.28,186.10 L330.56,185.47 L332.84,184.85 L335.12,184.23 L337.40,183.62 L339.68,183.01 L341.96,182.41 L344.25,181.81"/></defs>
<text class="b" font-size="17.6" letter-spacing="0.1"><textPath href="#tp" startOffset="6">Rankine and Brayton cycles</textPath></text>
<text class="t b" y="85.5"><tspan x="438.5" font-style="italic">η</tspan><tspan x="447.5" dy="6.2" font-size="11" font-weight="bold">C</tspan></text>
<text class="b2" font-size="17.2" y="153.7"><tspan x="428" font-size="17.5" font-style="italic">φ</tspan><tspan x="438.3" dy="5.6" font-size="10" font-style="italic" font-weight="bold" stroke-width="0.2">w,a</tspan><tspan x="451.8" dy="-5.6">=</tspan><tspan x="466.4">0.5</tspan></text>
<text class="b2" font-size="17.2" y="277.9"><tspan x="428" font-size="17.5" font-style="italic">φ</tspan><tspan x="438.3" dy="5.6" font-size="10" font-style="italic" font-weight="bold" stroke-width="0.2">w,a</tspan><tspan x="451.8" dy="-5.6">=</tspan><tspan x="466.4">1.0</tspan></text>
<text class="b2" font-size="17.2" y="353.7"><tspan x="428" font-size="17.5" font-style="italic">φ</tspan><tspan x="438.3" dy="5.6" font-size="10" font-style="italic" font-weight="bold" stroke-width="0.2">w,a</tspan><tspan x="451.8" dy="-5.6">=</tspan><tspan x="466.4">1.5</tspan></text>
<text class="b2" font-size="17" transform="translate(177.7,326) rotate(-7.3)"><tspan font-style="italic">η</tspan><tspan font-size="10.8" dy="4.5" stroke-width="0.55">TE</tspan><tspan dy="-4.5"> (Z</tspan><tspan font-size="10.8" dy="4.5" stroke-width="0.55">TE</tspan><tspan dy="-4.5" font-style="italic">T</tspan> = 1)</text>
<text class="b" font-size="19.5" y="414.4"><tspan x="256" font-style="italic">T</tspan><tspan x="267" font-size="12" font-style="italic" font-weight="bold" dy="8.3" stroke-width="0.3">c</tspan><tspan x="282.8" dy="-8.3" font-size="20.6">(K)</tspan></text>
<text class="b" font-size="20" transform="translate(9.2,214.5) rotate(-90)"><tspan font-style="italic">η</tspan><tspan font-size="13.4" dy="7.4" dx="-1.3" stroke-width="0.6">TI,max</tspan></text>
</svg>
</body></html>
